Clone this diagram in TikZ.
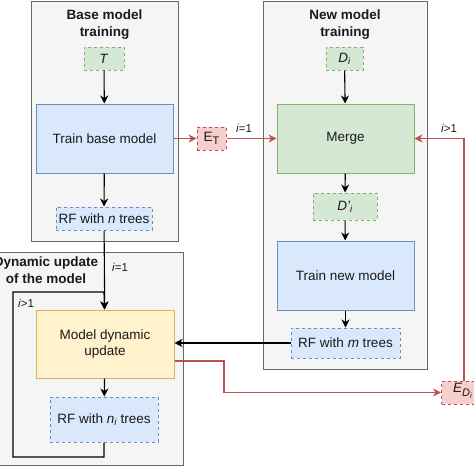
\documentclass[tikz,border=0pt]{standalone}
\usepackage{fontspec}
\setmainfont{Liberation Sans}
\usetikzlibrary{arrows.meta}
\definecolor{cgray}{HTML}{666666}
\definecolor{cfill}{HTML}{F5F5F5}
\definecolor{gfill}{HTML}{D5E8D4}
\definecolor{gdraw}{HTML}{82B366}
\definecolor{bfill}{HTML}{DAE8FC}
\definecolor{bdraw}{HTML}{6C8EBF}
\definecolor{yfill}{HTML}{FFF2CC}
\definecolor{ydraw}{HTML}{D6B656}
\definecolor{rfill}{HTML}{F8CECC}
\definecolor{rdraw}{HTML}{B85450}
\definecolor{txt}{HTML}{1A1A1A}
\newcommand{\lowsub}[1]{\raisebox{-3.5pt}{\fontsize{11}{11}\selectfont #1}}
\begin{document}
\begin{tikzpicture}[x=1pt,y=-1pt,
  every node/.style={inner sep=0pt, text=txt, font=\fontsize{13.5}{16.5}\selectfont},
  container/.style={draw=cgray, fill=cfill, line width=1pt},
  ttl/.style={font=\fontsize{13.5}{17}\selectfont\bfseries, align=center},
  gbox/.style={draw=gdraw, fill=gfill, line width=1pt},
  bbox/.style={draw=bdraw, fill=bfill, line width=1pt, align=center},
  ybox/.style={draw=ydraw, fill=yfill, line width=1pt, align=center},
  rbox/.style={draw=rdraw, fill=rfill, line width=1pt},
  dsh/.style={dash pattern=on 3pt off 3pt},
  lbl/.style={font=\fontsize{11.5}{13}\selectfont},
  arr/.style={-{Stealth[length=8pt,width=8pt,inset=2.5pt]}, line width=1.1pt, draw=black},
  redarr/.style={-{Stealth[length=8pt,width=8pt,inset=2.5pt]}, line width=1.1pt, draw=rdraw}]
\useasboundingbox (0,0) rectangle (474,474);
\clip (0,0) rectangle (474,474);
% containers
\node[container, minimum width=147pt, minimum height=240pt] (basec) at (104.5,121) {};
\node[container, minimum width=164pt, minimum height=368pt] (newc) at (345,185) {};
\node[container, minimum width=243pt, minimum height=213pt] (dync) at (61.5,358.5) {};
% titles
\node[ttl] (bt) at (104.5,25) {Base model\\training};
\node[ttl] (nt) at (345,25) {New model\\training};
\node[ttl] (dt) at (46,270) {Dynamic update\\of the model};
% base model
\node[gbox, dsh, minimum width=40pt, minimum height=23pt] (T) at (104,58.5) {\textit{T}};
\node[bbox, minimum width=137pt, minimum height=69pt] (trainbase) at (104.5,138.5) {Train base model};
\node[bbox, dsh, minimum width=96pt, minimum height=23pt] (rfn) at (104,218.5) {RF with \textit{n} trees};
\node[rbox, dsh, minimum width=29pt, minimum height=23pt] (ET) at (211.5,138.5) {E\lowsub{T}};
% new model
\node[gbox, dsh, minimum width=37pt, minimum height=23pt] (Di) at (344.5,58.5) {\textit{D\textsubscript{i}}};
\node[gbox, minimum width=137pt, minimum height=69pt] (merge) at (345.5,138.5) {Merge};
\node[gbox, dsh, minimum width=64pt, minimum height=27pt] (Dpi) at (345,206.5) {\textit{D'\textsubscript{i}}};
\node[bbox, minimum width=137pt, minimum height=69pt] (trainnew) at (345.5,275.5) {Train new model};
\node[bbox, dsh, minimum width=109pt, minimum height=30pt] (rfm) at (345.5,343) {RF with \textit{m} trees};
% dynamic update
\node[ybox, minimum width=138pt, minimum height=68pt] (dyn) at (105,344) {Model dynamic\\update};
\node[bbox, dsh, minimum width=108pt, minimum height=45pt] (rfni) at (104,419.5) {RF with \textit{n\textsubscript{i}} trees};
% E_Di
\node[rbox, dsh, minimum width=50pt, minimum height=23pt, anchor=west] (EDi) at (441,392.5) {};
\node[anchor=west] (EDit) at (453,391) {\textit{E\lowsub{D\textsubscript{i}}}};
% coordinates
\coordinate (lp1) at (104,457);
\coordinate (lp2) at (13,457);
\coordinate (lp3) at (13,292);
\coordinate (lp4) at (104,292);
\coordinate (r1) at (224,361);
\coordinate (r2) at (224,392.5);
\coordinate (r3) at (464,138.5);
% edges
\draw[arr] (T) -- (trainbase);
\draw[arr] (trainbase) -- (rfn);
\draw[redarr] (trainbase) -- (ET);
\draw[redarr] (ET) -- (merge);
\draw[arr] (Di) -- (merge);
\draw[arr] (merge) -- (Dpi);
\draw[arr] (Dpi) -- (trainnew);
\draw[arr] (trainnew) -- (rfm);
\draw[arr] (rfm) -- (rfm -| dyn.east);
\draw[arr] (rfn) -- (dyn);
\draw[arr] (rfni) -- (lp1) -- (lp2) -- (lp3) -- (lp4) -- (dyn);
\draw[arr] (dyn) -- (rfni);
\draw[redarr] ([yshift=-17pt]dyn.east) -- (r1) -- (r2) -- (EDi);
\draw[redarr] (EDi.north -| r3) -- (r3) -- (merge);
% labels
\node[lbl] (l1) at (244,128) {\textit{i}=1};
\node[lbl] (l2) at (449,128) {\textit{i}>1};
\node[lbl] (l3) at (120,267) {\textit{i}=1};
\node[lbl] (l4) at (26,303) {\textit{i}>1};
\end{tikzpicture}
\end{document}
